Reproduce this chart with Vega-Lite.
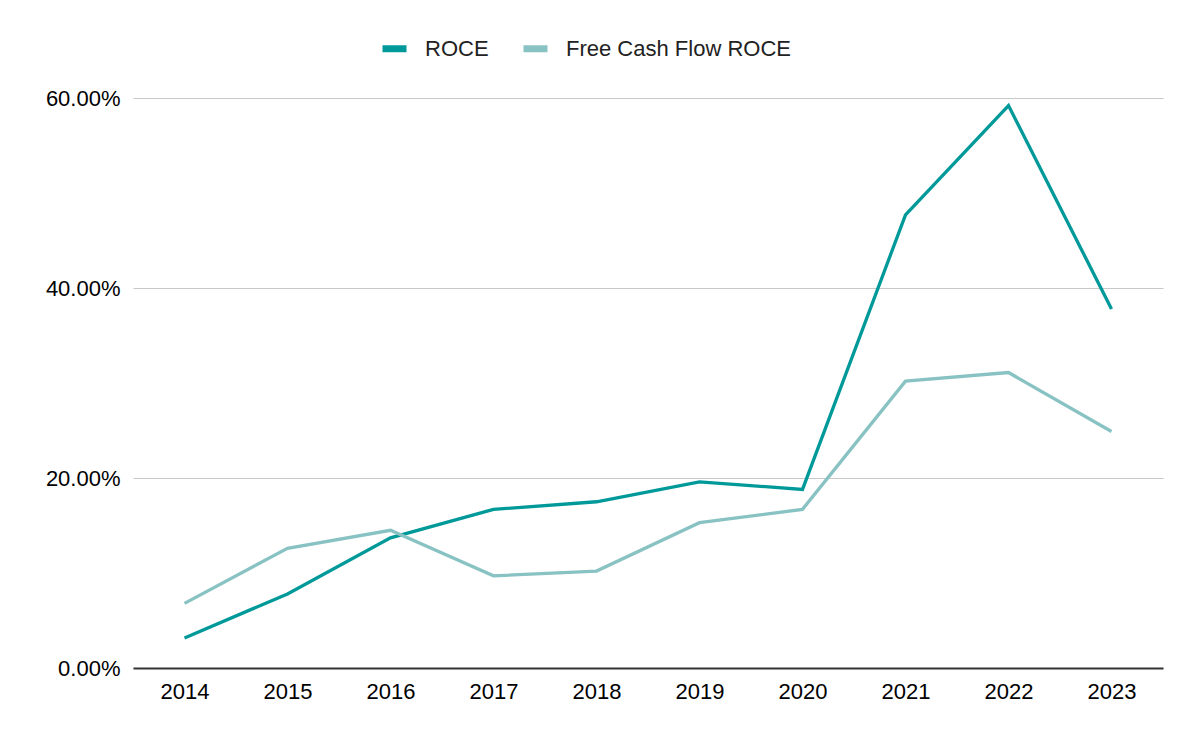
{
  "$schema": "https://vega.github.io/schema/vega-lite/v6.json",
  "autosize": {"type": "none"},
  "padding": {"left": 133, "top": 98, "right": 37, "bottom": 74},
  "width": 1030,
  "height": 570,
  "background": "white",
  "config": {
    "view": {"stroke": null},
    "font": "Liberation Sans",
    "axis": {"labelFont": "Liberation Sans", "labelFontSize": 22, "labelColor": "#000000"},
    "legend": {"labelFont": "Liberation Sans", "labelFontSize": 22, "labelColor": "#222222", "labelLimit": 400}
  },
  "data": {
    "values": [
      {"year": "2014", "series": "ROCE", "value": 0.0316},
      {"year": "2015", "series": "ROCE", "value": 0.078},
      {"year": "2016", "series": "ROCE", "value": 0.137},
      {"year": "2017", "series": "ROCE", "value": 0.167},
      {"year": "2018", "series": "ROCE", "value": 0.175},
      {"year": "2019", "series": "ROCE", "value": 0.196},
      {"year": "2020", "series": "ROCE", "value": 0.188},
      {"year": "2021", "series": "ROCE", "value": 0.477},
      {"year": "2022", "series": "ROCE", "value": 0.592},
      {"year": "2023", "series": "ROCE", "value": 0.378},
      {"year": "2014", "series": "Free Cash Flow ROCE", "value": 0.068},
      {"year": "2015", "series": "Free Cash Flow ROCE", "value": 0.126},
      {"year": "2016", "series": "Free Cash Flow ROCE", "value": 0.145},
      {"year": "2017", "series": "Free Cash Flow ROCE", "value": 0.097},
      {"year": "2018", "series": "Free Cash Flow ROCE", "value": 0.102},
      {"year": "2019", "series": "Free Cash Flow ROCE", "value": 0.153},
      {"year": "2020", "series": "Free Cash Flow ROCE", "value": 0.167},
      {"year": "2021", "series": "Free Cash Flow ROCE", "value": 0.302},
      {"year": "2022", "series": "Free Cash Flow ROCE", "value": 0.311},
      {"year": "2023", "series": "Free Cash Flow ROCE", "value": 0.249}
    ]
  },
  "mark": {"type": "line", "strokeWidth": 3.3},
  "encoding": {
    "x": {
      "field": "year",
      "type": "ordinal",
      "scale": {"type": "point", "padding": 0.5},
      "axis": {
        "title": null,
        "labelAngle": 0,
        "ticks": false,
        "domainColor": "#333333",
        "domainWidth": 2,
        "labelPadding": 13,
        "grid": false
      }
    },
    "y": {
      "field": "value",
      "type": "quantitative",
      "scale": {"domain": [0, 0.6], "nice": false},
      "axis": {
        "title": null,
        "format": ".2%",
        "values": [0, 0.2, 0.4, 0.6],
        "domain": false,
        "ticks": false,
        "labelPadding": 13,
        "gridColor": "#c8c8c8",
        "gridWidth": 1.2
      }
    },
    "color": {
      "field": "series",
      "type": "nominal",
      "scale": {"domain": ["ROCE", "Free Cash Flow ROCE"], "range": ["#00999A", "#88C2C2"]},
      "legend": {
        "title": null,
        "orient": "none",
        "direction": "horizontal",
        "legendX": 246,
        "legendY": -65,
        "symbolType": "stroke",
        "symbolStrokeWidth": 7,
        "symbolSize": 576,
        "labelOffset": 15,
        "columnPadding": 20
      }
    }
  }
}
